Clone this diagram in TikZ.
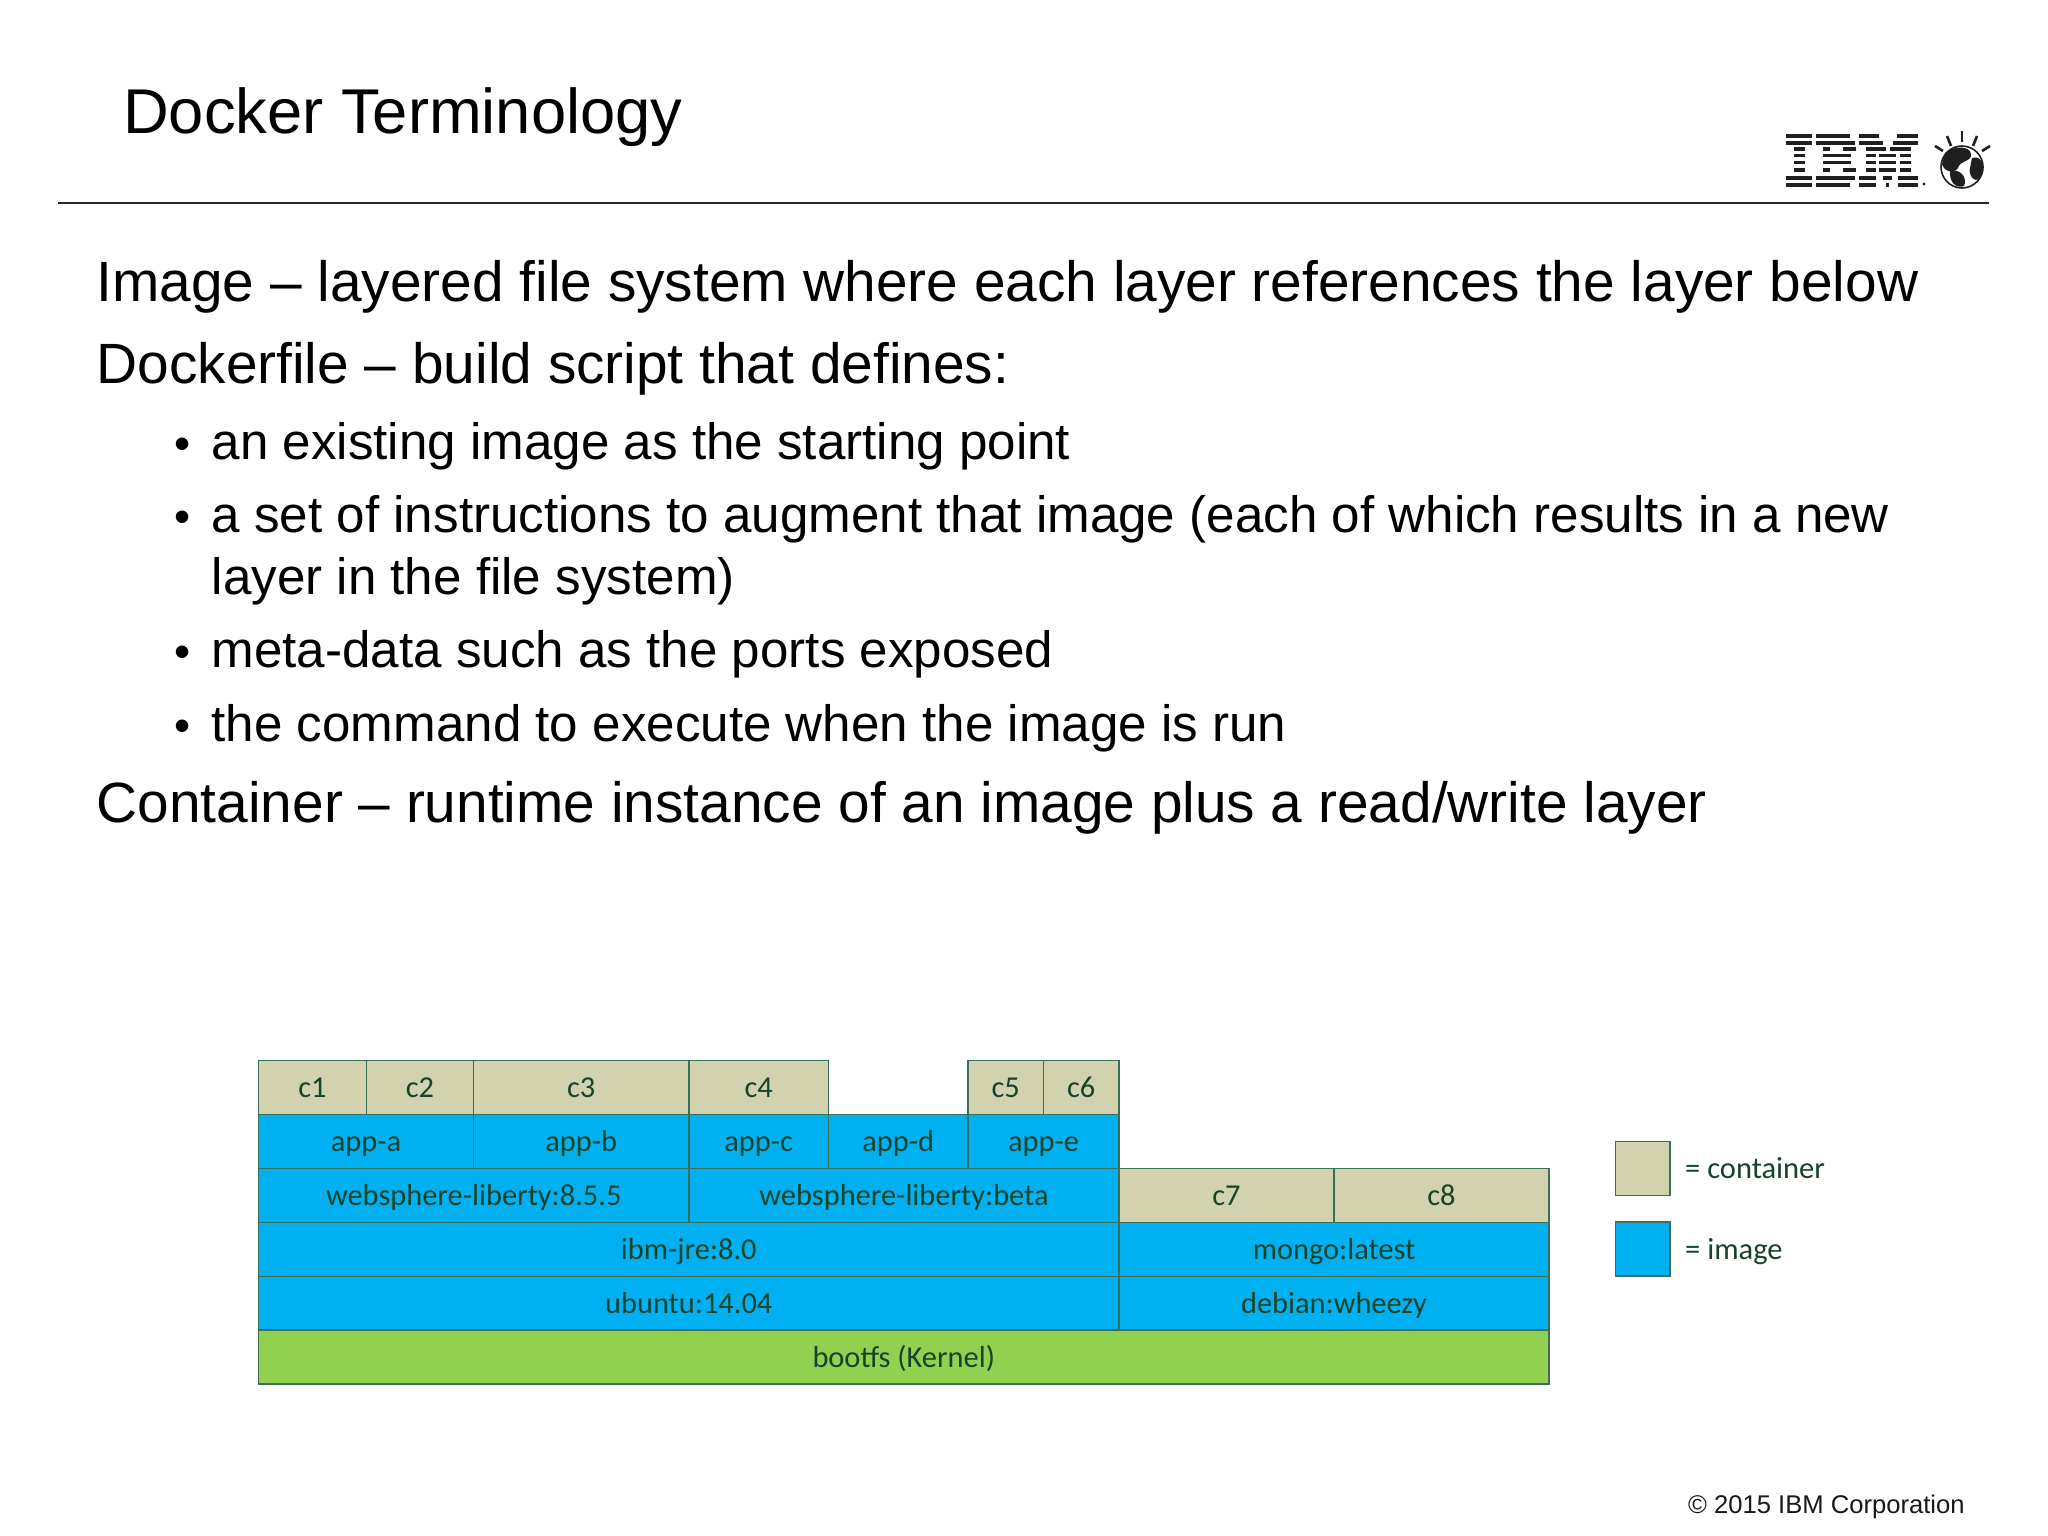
\documentclass[tikz,border=0pt]{standalone}
\usepackage{fontspec}
\setmainfont{Liberation Sans}
\newfontfamily\boxfont{Carlito}
\definecolor{contc}{HTML}{D2D2AE}
\definecolor{imgc}{HTML}{00B0F0}
\definecolor{kernc}{HTML}{92D050}
\definecolor{edgec}{HTML}{3A7058}
\definecolor{labc}{HTML}{17432A}
\newcommand{\pxfont}[1]{\fontsize{#1}{#1}\selectfont}
\tikzset{
  x=1pt,y=-1pt,
  cell/.style={draw=edgec,line width=1.2pt,inner sep=0pt,outer sep=0pt,text=labc,
    font=\boxfont\pxfont{30.4},text height=24.2pt,text depth=3.8pt,align=center},
  contcell/.style={cell,fill=contc},
  imgcell/.style={cell,fill=imgc},
  kerncell/.style={cell,fill=kernc},
  titletext/.style={anchor=base west,inner sep=0pt,font=\pxfont{63.3},text=black},
  headtext/.style={anchor=base west,inner sep=0pt,font=\pxfont{56.8},text=black},
  bultext/.style={anchor=base west,inner sep=0pt,font=\pxfont{51.15},text=black},
  legtext/.style={anchor=base west,inner sep=0pt,font=\boxfont\pxfont{30.5},text=labc},
}
\newcommand{\cellbox}[7]{% style, name, x0, x1, y0, y1, text
  \node[#1,minimum width={(#4-#3)*1pt},minimum height={(#6-#5)*1pt}] (#2) at ({(#3+#4)/2},{(#5+#6)/2}) {#7};}
\begin{document}
\begin{tikzpicture}
\useasboundingbox (0,0) rectangle (2048,1536);
\fill[white] (0,0) rectangle (2048,1536);

% title and rule
\node[titletext] (title) at (123,133.5) {Docker Terminology};
\coordinate (ruleL) at (58,203);
\coordinate (ruleR) at (1989,203);
\draw[line width=1.6pt,black!85] (ruleL) -- (ruleR);

% IBM logo
\begin{scope}[black!88]
\foreach \a/\b in {134/138.4,140.7/145,182.6/187,175.7/180}{
  \fill (1786,\a) rectangle (1811.5,\b);
}
\foreach \a/\b in {147.3/150.7,154/157.3,160.7/164,168.3/172.3}{
  \fill (1794,\a) rectangle (1805,\b);
}
% B
\fill (1816,134) rectangle (1850,138.4);
\fill (1816,140.7) rectangle (1855,145);
\foreach \a/\b in {147.3/150.7,168.3/172.3}{
  \fill (1823,\a) rectangle (1830,\b);
  \fill (1843,\a) rectangle (1856,\b);
}
\foreach \a/\b in {154/157.3,160.7/164}{
  \fill (1823,\a) rectangle (1851,\b);
}
\fill (1816,175.7) rectangle (1855,180);
\fill (1816,182.6) rectangle (1850,187);
% M
\fill (1859,134) rectangle (1879,138.4);
\fill (1897,134) rectangle (1918,138.4);
\fill (1859,140.7) rectangle (1883,145);
\fill (1893,140.7) rectangle (1918,145);
\fill (1866,147.3) rectangle (1886,150.7);
\fill (1890,147.3) rectangle (1911,150.7);
\foreach \a/\b in {154/157.3,160.7/164,168.3/172.3}{
  \fill (1866,\a) rectangle (1876,\b);
  \fill (1879,\a) rectangle (1896,\b);
  \fill (1900,\a) rectangle (1911,\b);
}
\fill (1859,175.7) rectangle (1876,180);
\fill (1883,175.7) rectangle (1892,180);
\fill (1898,175.7) rectangle (1918,180);
\fill (1859,182.6) rectangle (1876,187);
\fill (1886,182.6) rectangle (1889,187);
\fill (1898,182.6) rectangle (1918,187);
\fill (1924,184) circle (1.6);
% globe
\draw[line width=1.6pt,fill=white] (1962,167) circle (21);
\fill (1945,153) .. controls (1954,145) and (1970,146) .. (1971,154) .. controls (1972,162) and (1960,160) .. (1958,168) .. controls (1954,174) and (1944,172) .. (1942,164) -- cycle;
\fill (1972,158) .. controls (1984,154) and (1986,172) .. (1980,178) .. controls (1974,184) and (1968,174) .. (1970,168) -- cycle;
\fill (1950,171) .. controls (1960,168) and (1968,178) .. (1964,186) .. controls (1956,189) and (1949,182) .. cycle;
\draw[line width=2.6pt] (1962,131) -- (1962,142);
\draw[line width=2.6pt] (1947,136) -- (1951,146);
\draw[line width=2.6pt] (1977,136) -- (1973,146);
\draw[line width=2.6pt] (1935,146) -- (1943,151);
\draw[line width=2.6pt] (1990,146) -- (1982,151);
\end{scope}

% body
\node[headtext] (t1) at (96.5,301) {Image – layered file system where each layer references the layer below};
\node[headtext] (t2) at (96.5,383) {Dockerfile – build script that defines:};
\node[bultext] (b1) at (211.5,459) {an existing image as the starting point};
\node[bultext] (b2) at (211.5,532.5) {a set of instructions to augment that image (each of which results in a new};
\node[bultext] (b2b) at (211.5,594) {layer in the file system)};
\node[bultext] (b3) at (211.5,667.5) {meta-data such as the ports exposed};
\node[bultext] (b4) at (211.5,741.5) {the command to execute when the image is run};
\node[headtext] (t3) at (96.5,822) {Container – runtime instance of an image plus a read/write layer};
\foreach \n in {b1,b2,b3,b4}{
  \node[anchor=base,inner sep=0pt,font=\pxfont{46}] at ([xshift=-29pt]\n.base west) {•};
}

% layer diagram
\cellbox{contcell}{c1}{258.5}{366.5}{1060.7}{1114.3}{c1}
\cellbox{contcell}{c2}{366.5}{473.5}{1060.7}{1114.3}{c2}
\cellbox{contcell}{c3}{473.5}{689}{1060.7}{1114.3}{c3}
\cellbox{contcell}{c4}{689}{828.5}{1060.7}{1114.3}{c4}
\cellbox{contcell}{c5}{968}{1043.5}{1060.7}{1114.3}{c5}
\cellbox{contcell}{c6}{1043.5}{1119}{1060.7}{1114.3}{c6}
\cellbox{imgcell}{appa}{258.5}{473.5}{1114.3}{1168.3}{app-a}
\cellbox{imgcell}{appb}{473.5}{689}{1114.3}{1168.3}{app-b}
\cellbox{imgcell}{appc}{689}{828.5}{1114.3}{1168.3}{app-c}
\cellbox{imgcell}{appd}{828.5}{968}{1114.3}{1168.3}{app-d}
\cellbox{imgcell}{appe}{968}{1119}{1114.3}{1168.3}{app-e}
\cellbox{imgcell}{wl}{258.5}{689}{1168.3}{1222.3}{websphere-liberty:8.5.5}
\cellbox{imgcell}{wb}{689}{1119}{1168.3}{1222.3}{websphere-liberty:beta}
\cellbox{contcell}{c7}{1119}{1334}{1168.3}{1222.3}{c7}
\cellbox{contcell}{c8}{1334}{1549}{1168.3}{1222.3}{c8}
\cellbox{imgcell}{jre}{258.5}{1119}{1222.3}{1276.3}{ibm-jre:8.0}
\cellbox{imgcell}{mongo}{1119}{1549}{1222.3}{1276.3}{mongo:latest}
\cellbox{imgcell}{ubu}{258.5}{1119}{1276.3}{1330}{ubuntu:14.04}
\cellbox{imgcell}{deb}{1119}{1549}{1276.3}{1330}{debian:wheezy}
\cellbox{kerncell}{boot}{258.5}{1549}{1330}{1384}{bootfs (Kernel)}

% legend
\cellbox{contcell}{legc}{1615.5}{1670}{1141.3}{1195.7}{}
\cellbox{imgcell}{legi}{1615.5}{1670}{1222}{1276}{}
\node[legtext] (legct) at (1685,1178) {= container};
\node[legtext] (legit) at (1685,1259) {= image};

% footer
\node[anchor=base west,inner sep=0pt,font=\pxfont{25.6},text=black!90] (copy) at (1688,1513) {© 2015 IBM Corporation};
\end{tikzpicture}
\end{document}
